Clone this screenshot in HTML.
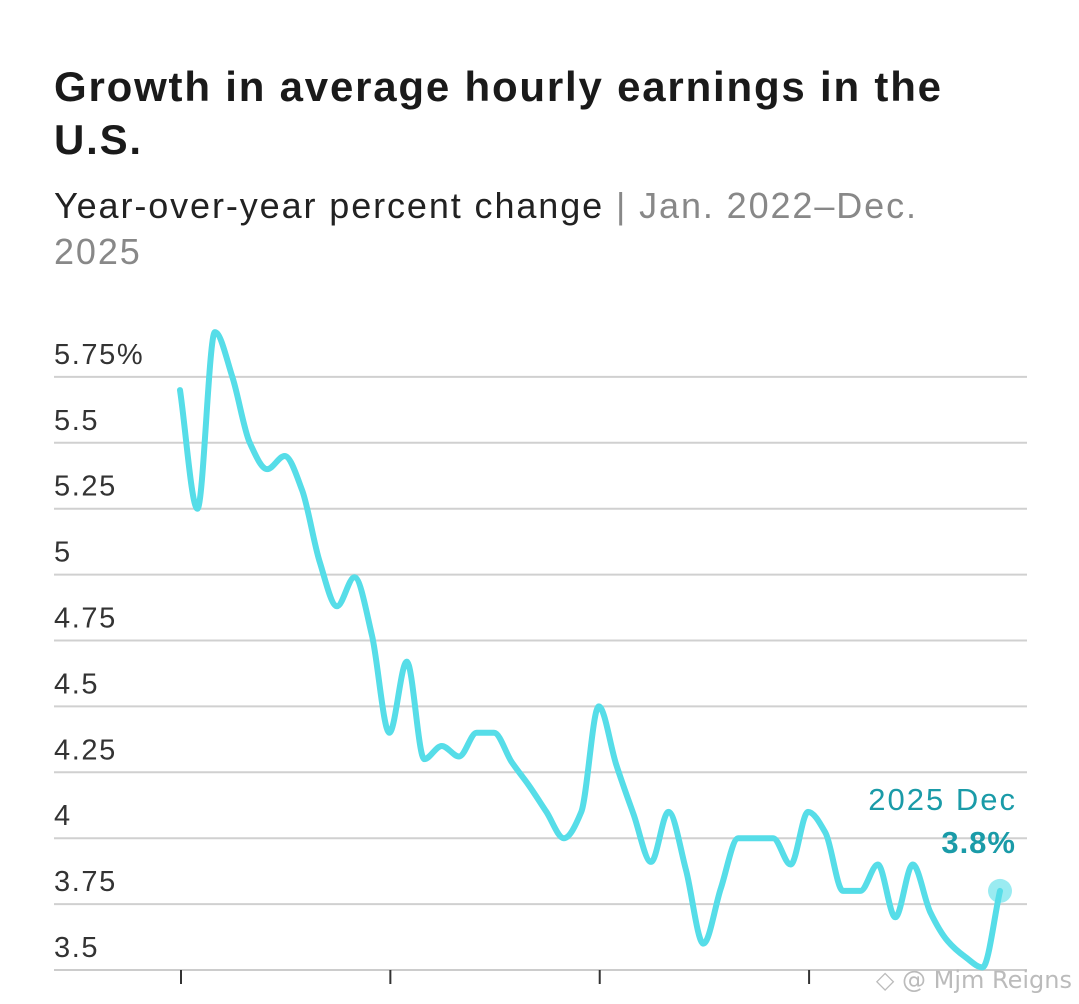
<!DOCTYPE html>
<html><head><meta charset="utf-8"><style>
body{margin:0;background:#fff;width:1079px;height:1004px;overflow:hidden;font-family:"Liberation Sans",sans-serif;}
#title{position:absolute;left:54px;top:60px;width:960px;font-size:42px;font-weight:bold;color:#1a1a1a;line-height:53px;letter-spacing:1.8px;}
#sub{position:absolute;left:54px;top:183px;width:900px;font-size:36px;color:#222;line-height:46px;letter-spacing:1.9px;}
#sub span{color:#888;}
svg{position:absolute;left:0;top:0;}
</style></head><body>
<div id="title">Growth in average hourly earnings in the U.S.</div>
<div id="sub">Year-over-year percent change <span>| Jan. 2022–Dec. 2025</span></div>
<svg id="chart" width="1079" height="1004"></svg>
<script>
const yTicks=[3.5,3.75,4,4.25,4.5,4.75,5,5.25,5.5,5.75];
const yTickLabels=["3.5","3.75","4","4.25","4.5","4.75","5","5.25","5.5","5.75%"];
const values=[5.7,5.25,5.92,5.75,5.5,5.4,5.45,5.32,5.05,4.88,4.99,4.77,4.4,4.67,4.3,4.35,4.31,4.4,4.4,4.29,4.2,4.1,4.0,4.1,4.5,4.28,4.09,3.91,4.1,3.88,3.6,3.81,4.0,4.0,4.0,3.9,4.1,4.02,3.8,3.8,3.9,3.7,3.9,3.72,3.61,3.55,3.51,3.8];
const xTickIdx=[0,12,24,36];
const NS="http://www.w3.org/2000/svg";
const svg=document.getElementById('chart');
const y=v=>970-(v-3.5)*263.6;
const x=i=>180+i*(1000-180)/47;
function mk(t,a){const e=document.createElementNS(NS,t);for(const k in a)e.setAttribute(k,a[k]);svg.appendChild(e);return e;}
yTicks.forEach((v,i)=>{
  if(i>0){const l=mk('line',{x1:54,x2:1027,y1:y(v),y2:y(v),stroke:'#d0d0d0','stroke-width':2});
  
  }
  const t=mk('text',{x:54,y:y(v)-13,'font-size':29,fill:'#333','font-family':'Liberation Sans','letter-spacing':1.6});
  t.textContent=yTickLabels[i];
  
  
});
const ax=mk('line',{x1:54,x2:1027,y1:970,y2:970,stroke:'#ccc','stroke-width':2});


xTickIdx.forEach(i=>{const t=mk('line',{x1:x(i)+1,x2:x(i)+1,y1:970,y2:984,stroke:'#333','stroke-width':2});

});
const pts=values.map((v,i)=>[x(i),y(v)]);
const n=pts.length,h=pts[1][0]-pts[0][0];
const s=[];for(let i=0;i<n-1;i++)s.push((pts[i+1][1]-pts[i][1])/h);
const m=[];
for(let i=0;i<n;i++){
  if(i===0)m.push(s[0]);else if(i===n-1)m.push(s[n-2]);
  else{const a=s[i-1],b=s[i];m.push(a*b<=0?0:(2*a*b)/(a+b));}
}
let d=`M${pts[0][0]},${pts[0][1]}`;
for(let i=0;i<n-1;i++){const p1=pts[i],p2=pts[i+1];
d+=` C${p1[0]+h/3},${p1[1]+m[i]*h/3} ${p2[0]-h/3},${p2[1]-m[i+1]*h/3} ${p2[0]},${p2[1]}`;}
const line=mk('path',{d:d,fill:'none',stroke:'#56dde8','stroke-width':6,'stroke-linecap':'round','stroke-linejoin':'round'});


const last=pts[n-1];
const dot=mk('circle',{cx:last[0],cy:last[1],r:12,fill:'#56dde8','fill-opacity':0.6});


const a1=mk('text',{x:1017,y:810,'font-size':31,fill:'#1a9ba8','text-anchor':'end','font-family':'Liberation Sans','letter-spacing':2});
a1.textContent='2025 Dec';


const a2=mk('text',{x:1016,y:853,'font-size':31,'font-weight':'bold',fill:'#1a9ba8','text-anchor':'end','font-family':'Liberation Sans','letter-spacing':1});
a2.textContent=values[n-1]+'%';


const w=mk('text',{x:1072,y:988,'font-size':24,fill:'#bbb','text-anchor':'end','font-family':'DejaVu Sans'});
w.textContent='◇ @ Mjm Reigns';


</script>
</body></html>
